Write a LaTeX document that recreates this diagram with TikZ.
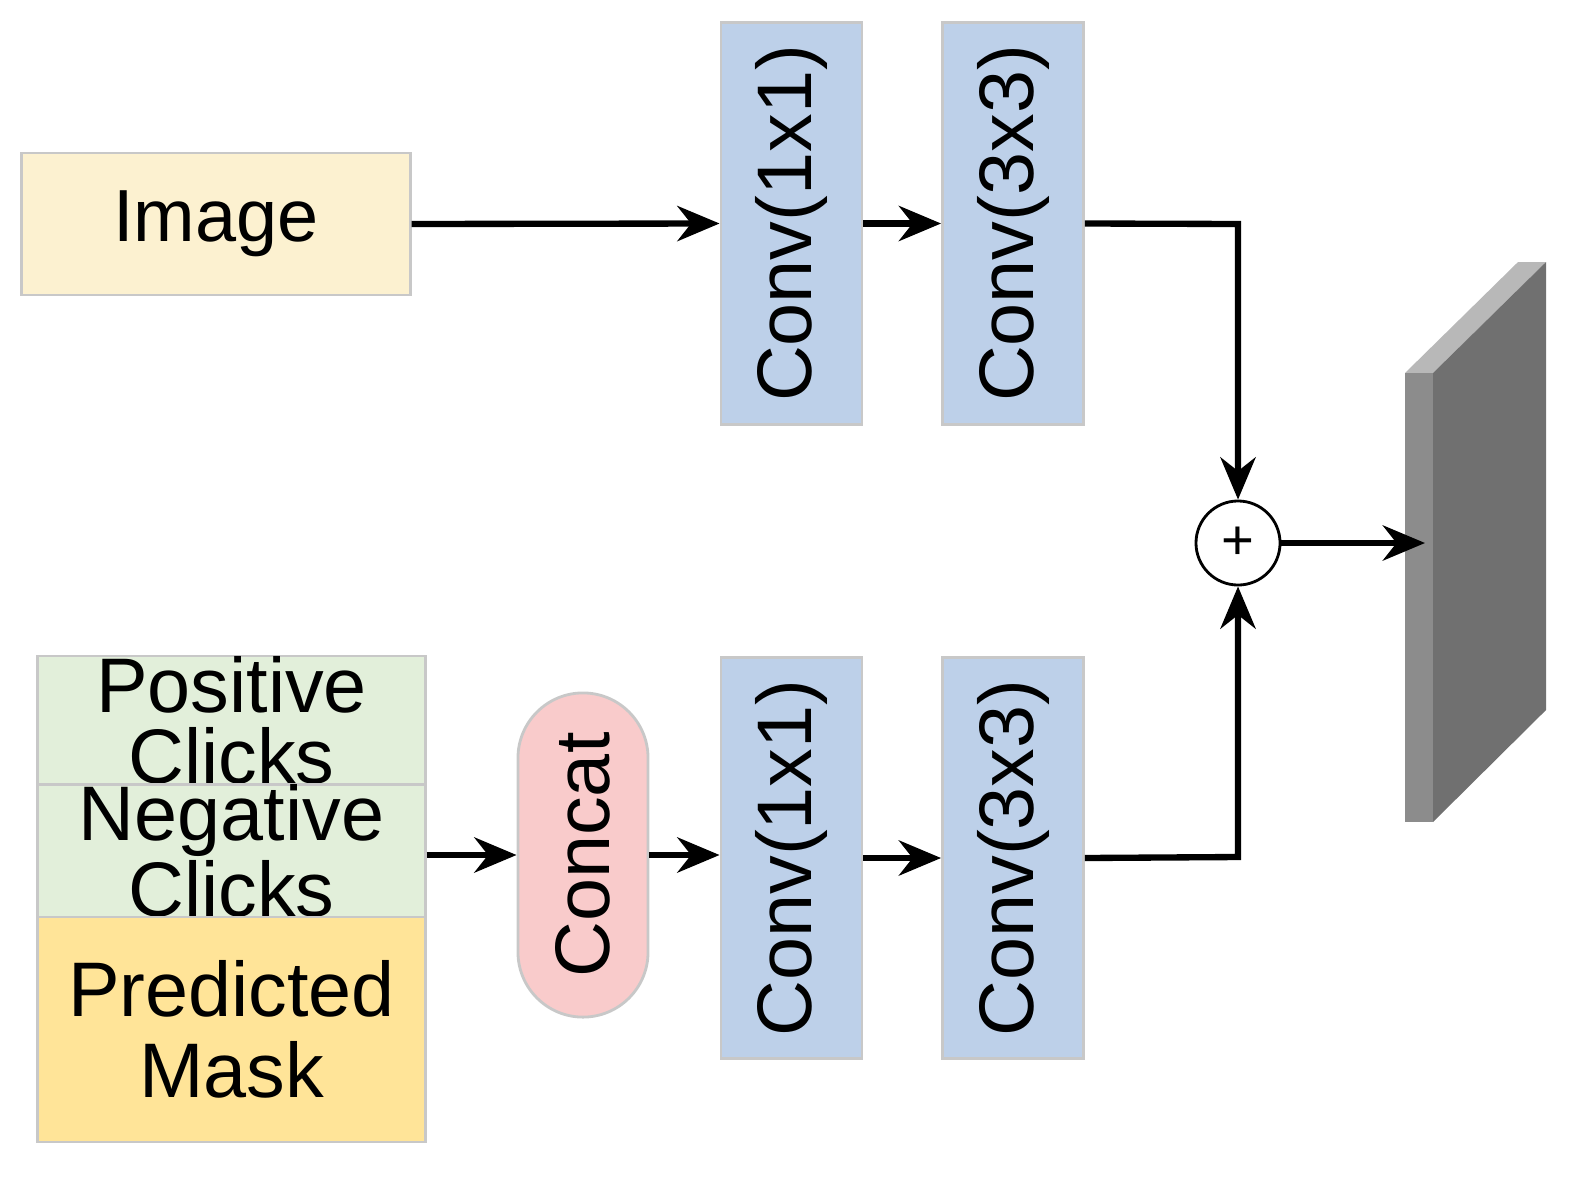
\documentclass[tikz,border=0pt]{standalone}
\usepackage{fontspec}
\setmainfont{Liberation Sans}
\usetikzlibrary{arrows.meta}
\definecolor{convblue}{HTML}{BDD0E9}
\definecolor{imgyel}{HTML}{FCF1D0}
\definecolor{clkgreen}{HTML}{E2EFDA}
\definecolor{maskorg}{HTML}{FFE498}
\definecolor{catpink}{HTML}{F9CBCB}
\definecolor{edgegray}{HTML}{C8C8C8}
\definecolor{slabfront}{HTML}{8C8C8C}
\definecolor{slabside}{HTML}{707070}
\definecolor{slabtop}{HTML}{B8B8B8}
\begin{document}
\begin{tikzpicture}[x=0.01cm,y=-0.01cm,
  box/.style={draw=edgegray,line width=0.8pt,inner sep=0pt,font=\fontsize{22}{20}\selectfont},
  conv/.style={box,fill=convblue,minimum width=1.41cm,minimum height=4.01cm},
  conn/.style={line width=1.8pt,-{Stealth[length=12pt,width=10pt]}}]
\useasboundingbox (0,0) rectangle (1586,1185);
\node[box,fill=imgyel,minimum width=3.88cm,minimum height=1.42cm,font=\fontsize{21}{20}\selectfont] (img) at (216,224) {Image};
\node[conv] (c1) at (791.5,223.5) {\rotatebox{90}{Conv(1x1)}};
\node[conv] (c2) at (1013,223.5) {\rotatebox{90}{Conv(3x3)}};
\node[conv] (c3) at (791.5,858) {\rotatebox{90}{Conv(1x1)}};
\node[conv] (c4) at (1013,858) {\rotatebox{90}{Conv(3x3)}};
\node[box,fill=catpink,rounded corners=0.65cm,minimum width=1.3cm,minimum height=3.24cm] (cat) at (583,855) {\rotatebox{90}{Concat}};
\node[box,fill=clkgreen,minimum width=3.87cm,minimum height=1.29cm,align=center,font=\fontsize{22}{20}\selectfont] (pos) at (231.5,720.5) {Positive\\Clicks};
\node[box,fill=clkgreen,minimum width=3.87cm,minimum height=1.32cm,align=center,font=\fontsize{22}{20}\selectfont] (neg) at (231.5,851) {Negative\\Clicks};
\node[box,fill=maskorg,minimum width=3.87cm,minimum height=2.25cm,align=center,font=\fontsize{22}{23}\selectfont] (mask) at (231.5,1029.5) {Predicted\\Mask};
\node[draw,circle,fill=white,line width=0.8pt,minimum size=0.84cm,inner sep=0pt,font=\fontsize{16}{16}\selectfont] (plus) at (1238,543) {+};
% output feature map
\fill[slabtop] (1405,373) -- (1518,262) -- (1546,262) -- (1433,373) -- cycle;
\fill[slabside] (1433,373) -- (1546,262) -- (1546,710) -- (1433,822) -- cycle;
\fill[slabfront] (1405,373) rectangle (1433,822);
\coordinate (out) at (1425,543);
\coordinate (tr) at (1238,224);
\coordinate (br) at (1238,857);
\draw[conn] (img.east) -- (c1.west);
\draw[conn] (c1.east) -- (c2.west);
\draw[conn] (c2.east) -- (tr) -- (plus.north);
\draw[conn] (neg.east |- cat.west) -- (cat.west);
\draw[conn] (cat.east) -- (c3.west |- cat.east);
\draw[conn] (c3.east) -- (c4.west);
\draw[conn] (c4.east) -- (br) -- (plus.south);
\draw[conn] (plus.east) -- (out);
\end{tikzpicture}
\end{document}
